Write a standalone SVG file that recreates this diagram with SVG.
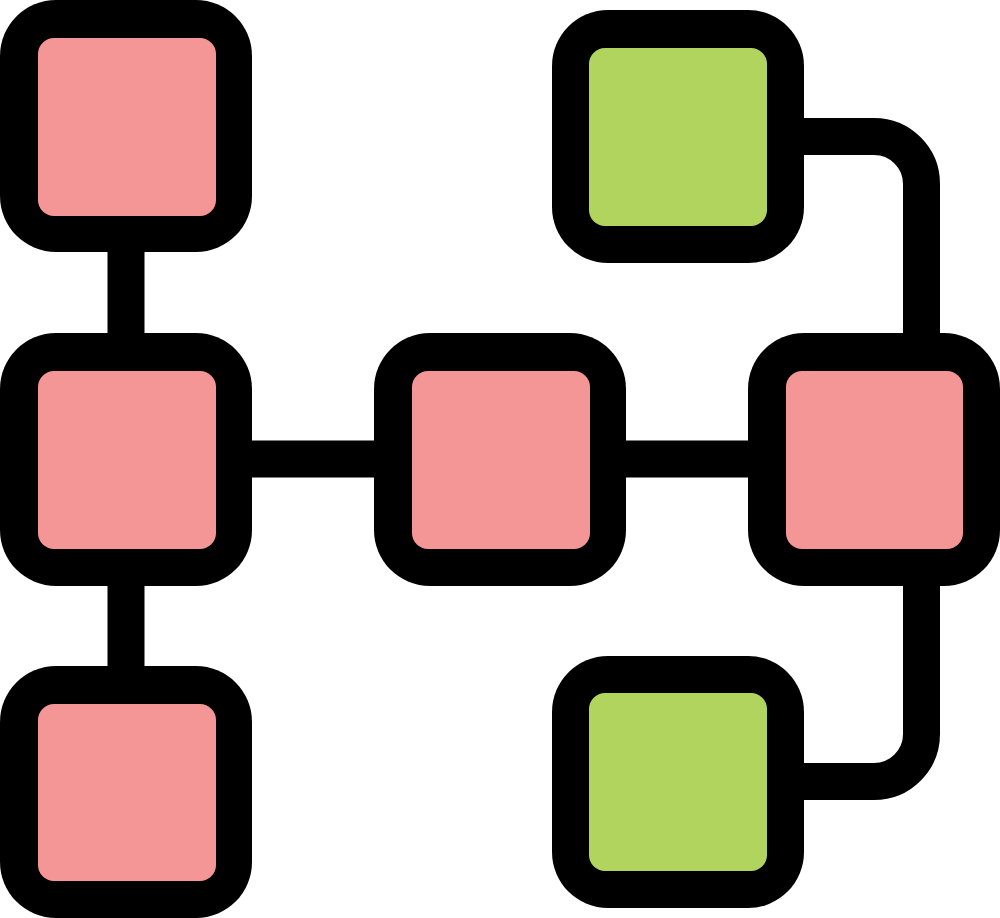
<svg xmlns="http://www.w3.org/2000/svg" width="1000" height="918" viewBox="0 0 1000 918">
<style>
.outer{fill:#000}
.pink{fill:#F49695}
.green{fill:#B1D45F}
.conn{fill:none;stroke:#000;stroke-width:37}
</style>
<rect width="1000" height="918" fill="#fff"/>
<g id="connectors">
<line class="conn" x1="126" y1="240" x2="126" y2="345"/>
<line class="conn" x1="126" y1="575" x2="126" y2="680"/>
<line class="conn" x1="240" y1="459" x2="386" y2="459"/>
<line class="conn" x1="614" y1="459" x2="760" y2="459"/>
<path class="conn" d="M792 136.5 H874 A47.5 47.5 0 0 1 921.5 184 V345"/>
<path class="conn" d="M921.5 575 V734 A47.5 47.5 0 0 1 874 781.5 H792"/>
</g>
<g id="node-top-left">
<rect class="outer" x="0" y="0" width="252" height="252" rx="56"/>
<rect class="pink" x="38" y="38" width="178" height="178" rx="16"/>
</g>
<g id="node-mid-left">
<rect class="outer" x="0" y="333" width="252" height="253" rx="56"/>
<rect class="pink" x="38" y="371" width="178" height="178" rx="16"/>
</g>
<g id="node-bottom-left">
<rect class="outer" x="0" y="666" width="252" height="252" rx="56"/>
<rect class="pink" x="38" y="704" width="178" height="177" rx="16"/>
</g>
<g id="node-center">
<rect class="outer" x="374" y="333" width="252" height="253" rx="56"/>
<rect class="pink" x="412" y="371" width="178" height="178" rx="16"/>
</g>
<g id="node-right">
<rect class="outer" x="748" y="333" width="252" height="253" rx="56"/>
<rect class="pink" x="786" y="371" width="177" height="178" rx="16"/>
</g>
<g id="node-top-green">
<rect class="outer" x="552" y="10" width="252" height="253" rx="56"/>
<rect class="green" x="589" y="48" width="178" height="178" rx="16"/>
</g>
<g id="node-bottom-green">
<rect class="outer" x="552" y="656" width="252" height="252" rx="56"/>
<rect class="green" x="589" y="693" width="178" height="178" rx="16"/>
</g>
</svg>
